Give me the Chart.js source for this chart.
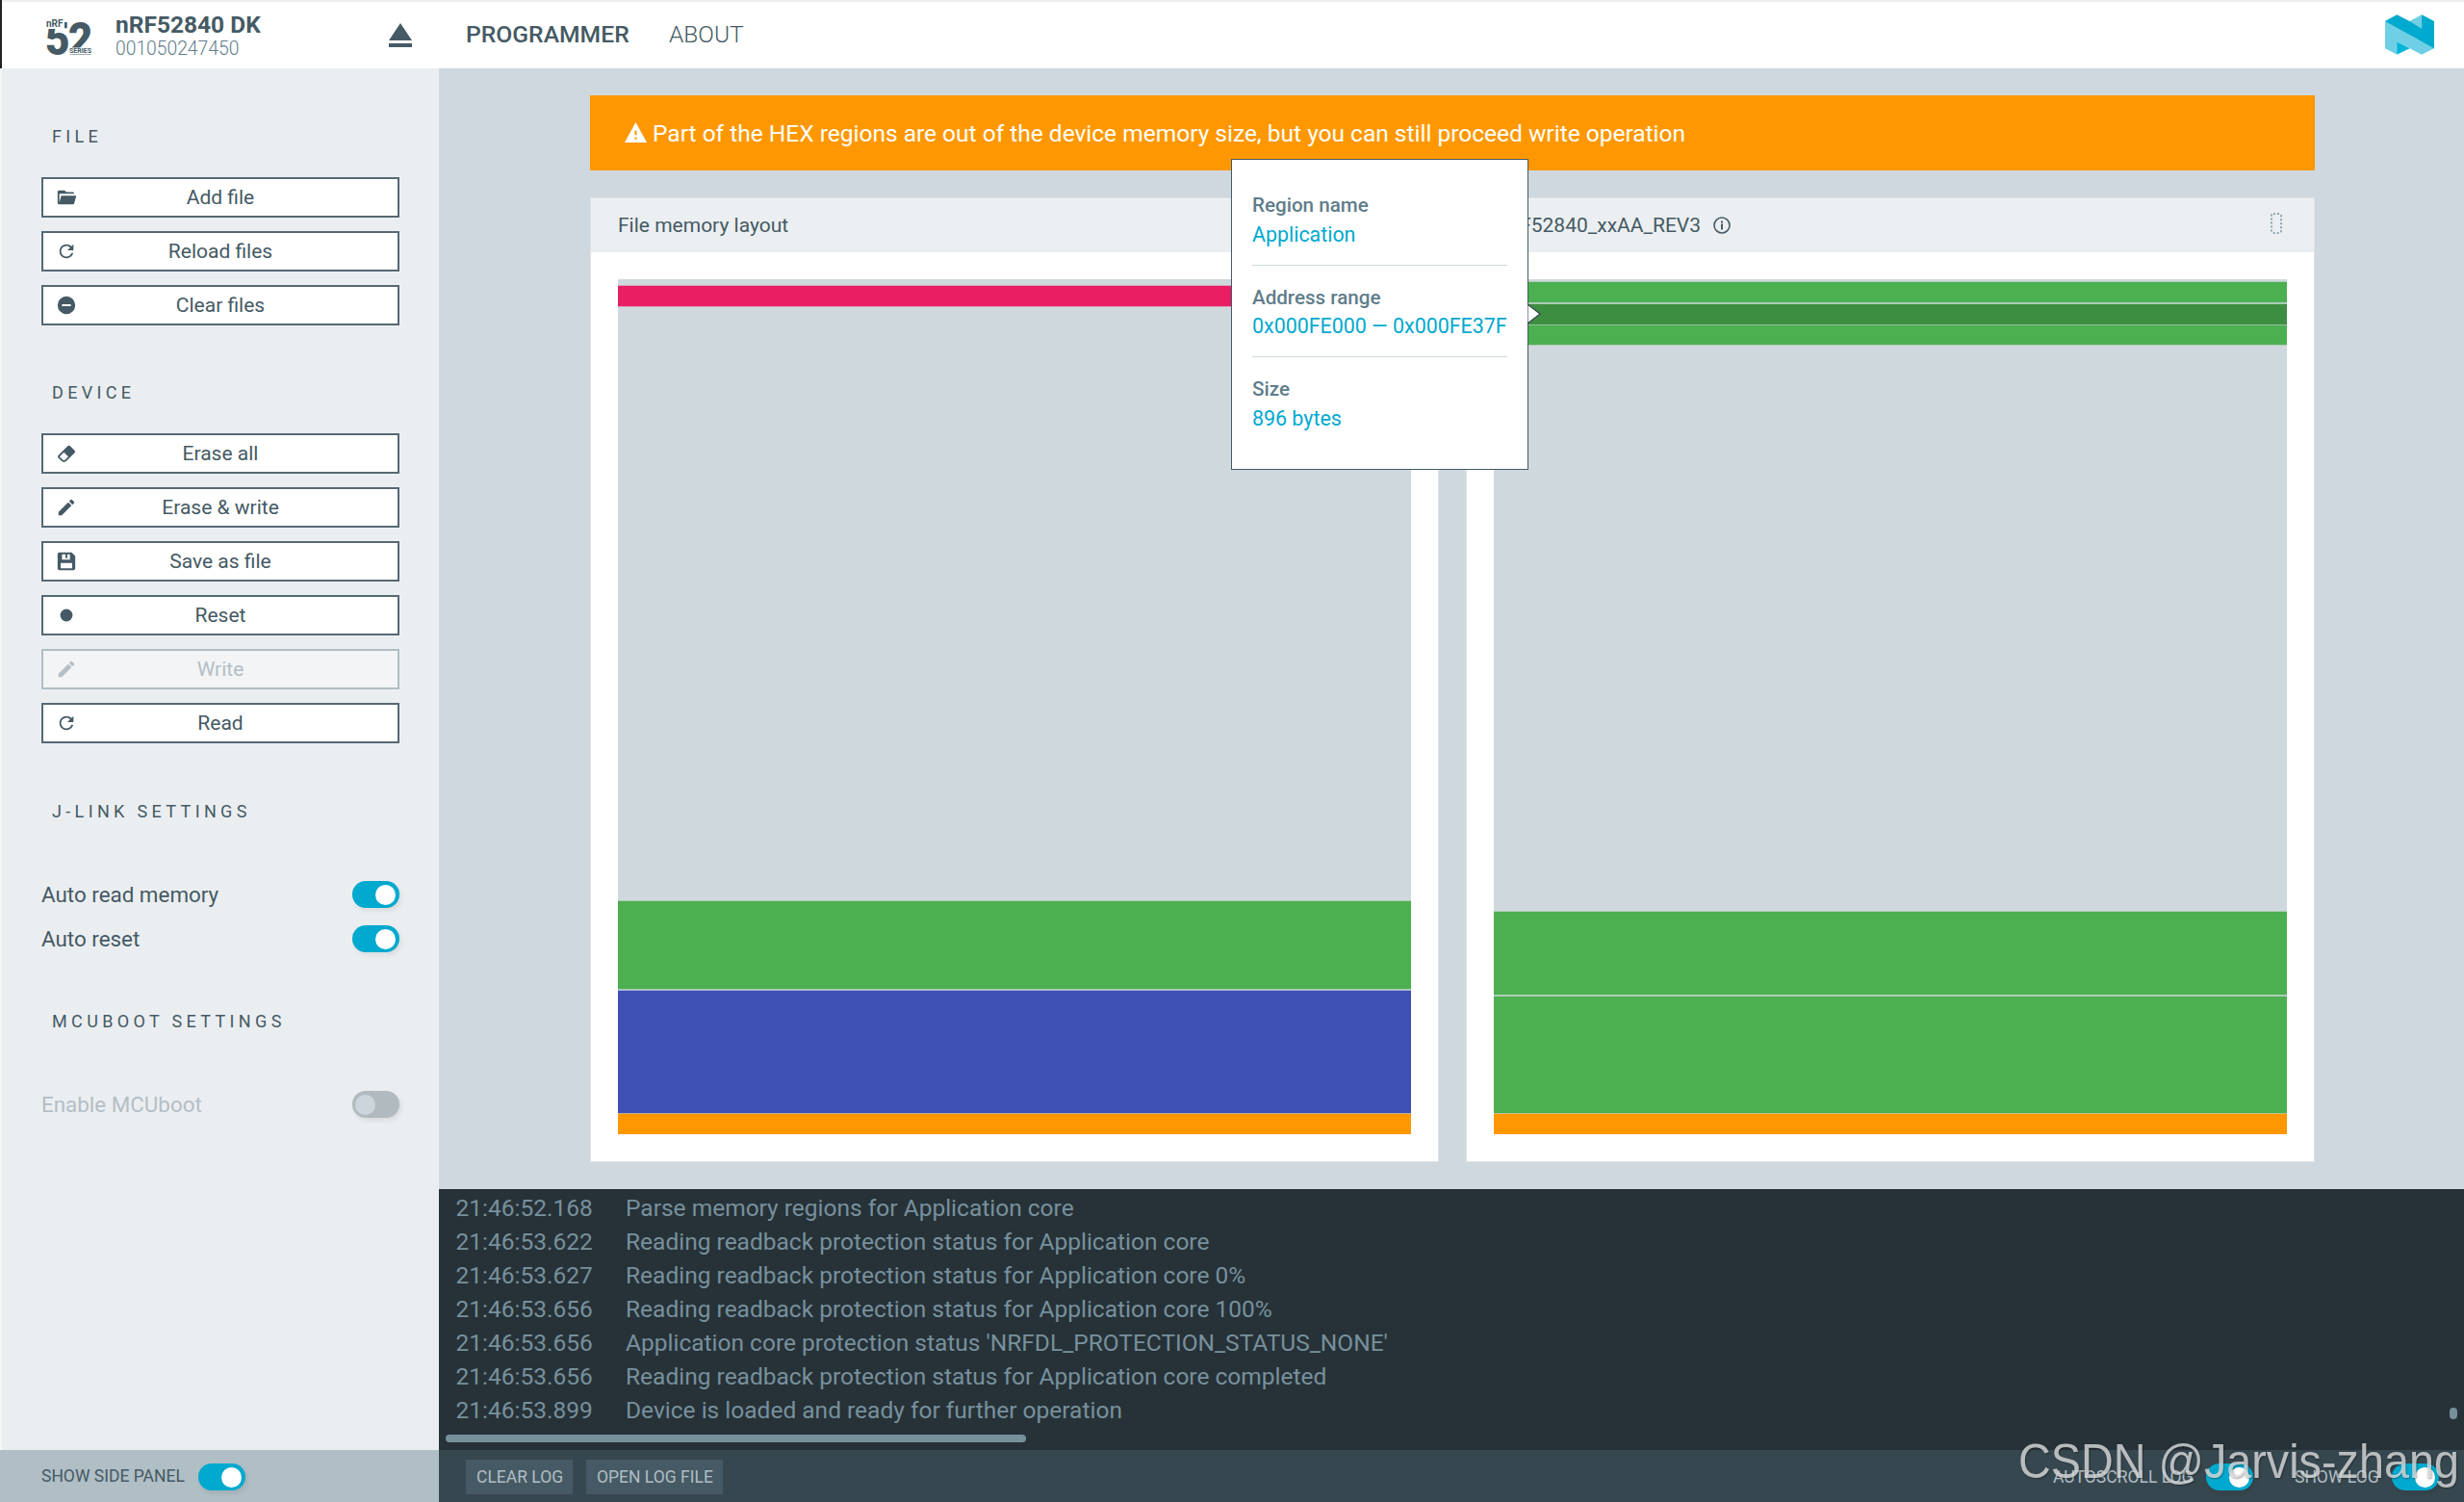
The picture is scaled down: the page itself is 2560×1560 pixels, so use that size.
<!DOCTYPE html>
<html><head><meta charset="utf-8"><title>nRF Connect Programmer</title>
<script src="https://cdn.jsdelivr.net/npm/chart.js@4/dist/chart.umd.min.js"></script>
<style>
html,body{margin:0;padding:0;background:#cfd8de;}
#app{position:relative;width:2560px;height:1560px;overflow:hidden;font-family:Roboto,sans-serif;color:#455a64;background:#cfd8de;}
.box{position:absolute;box-sizing:border-box;}
.t{position:absolute;white-space:nowrap;line-height:1;transform:translateY(-50%);}
.btn{position:absolute;left:43px;width:372px;height:42px;box-sizing:border-box;border:2px solid #566974;background:#fff;text-align:center;line-height:38px;font-size:21px;}
.btn.off{border-color:#b0bec5;background:#f2f4f6;color:#b4bec5;}
.btn svg{position:absolute;left:13px;top:8px;width:22px;height:22px;fill:currentColor;}
.head{letter-spacing:4.35px;font-size:18px;}
.tg{position:absolute;width:49px;height:28px;border-radius:14px;background:#00a9ce;box-shadow:2px 3px 5px rgba(0,0,0,.08);}
.tg i{position:absolute;right:4px;top:4px;width:21px;height:21px;border-radius:50%;background:#fff;}
.tg.off{background:#b0babf;}.tg.off i{right:auto;left:3px;background:#cdd5dc;}
canvas{position:absolute;display:block;}
.tipl{color:#607d8b;font-weight:500;font-size:20.6px;left:1301px;}
.tipv{color:#00a9ce;font-size:21.4px;left:1301px;}
</style></head><body><div id="app">
<div class="box" style="left:0;top:0;width:2560px;height:71px;background:#fff;border-top:2px solid #eceff1"></div>
<div class="box" style="left:0;top:0;width:2px;height:120px;background:#222"></div>
<div class="box" style="left:0;top:71px;width:456px;height:1435px;background:#ebeef1;border-left:2px solid #f5f6f7"></div>

<div class="t" style="left:47px;top:40px;font-size:49px;font-weight:900;letter-spacing:-2px;color:#455a64;transform-origin:left center;transform:translateY(-50%) scaleX(.9)">52</div>
<div class="t" style="left:48px;top:25px;font-size:10px;font-weight:700;background:#fff;padding-right:1px;">nRF</div>
<div class="t" style="left:72px;top:53px;font-size:7px;font-weight:700;background:#fff">SERIES</div>
<div class="t" style="left:120px;top:26px;font-size:24.5px;font-weight:700">nRF52840 DK</div>
<div class="t" style="left:120px;top:51px;font-size:19.3px;font-weight:300;color:#607d8b">001050247450</div>
<svg class="box" style="left:403px;top:24px" width="26" height="26" viewBox="0 0 26 26"><path d="M13 0L25 18H1ZM1 21H25V25H1Z" fill="#455a64"/></svg>
<div class="t" style="left:484px;top:36px;font-size:24.7px;font-weight:500">PROGRAMMER</div>
<div class="t" style="left:695px;top:36px;font-size:24.5px;font-weight:300">ABOUT</div>
<svg class="box" style="left:2478px;top:15px" width="51" height="42" viewBox="113 44 154 126">
<polygon fill="#6fcfe5" points="113,65 113,150 150,170 150,130 228,170 267,150 267,110 150,65"/>
<polygon fill="#00b3d9" points="150,130 190,150 150,170"/>
<polygon fill="#6fcfe5" points="190,65 228,44 228,90"/>
<polygon fill="#00a9ce" points="113,65 150,44 190,65 228,88 228,44 267,65 267,150 228,128"/>
</svg>

<div class="t head" style="left:54px;top:142px">FILE</div>
<div class="t head" style="left:54px;top:408px">DEVICE</div>
<div class="t head" style="left:54px;top:843px">J-LINK SETTINGS</div>
<div class="t head" style="left:54px;top:1061px">MCUBOOT SETTINGS</div>
<div id="buttons"></div>
<div class="t" style="left:43px;top:928.5px;font-size:22.4px">Auto read memory</div>
<div class="t" style="left:43px;top:974.5px;font-size:22.4px">Auto reset</div>
<div class="t" style="left:43px;top:1146.5px;font-size:22.4px;color:#b4bec5">Enable MCUboot</div>
<div class="tg" style="left:366px;top:915px"><i></i></div>
<div class="tg" style="left:366px;top:961px"><i></i></div>
<div class="tg off" style="left:366px;top:1133px"><i></i></div>

<div class="box" style="left:613px;top:99px;width:1792px;height:78px;background:#ff9800"></div>
<svg class="box" style="left:649px;top:127px" width="23" height="21" viewBox="1 2 22 19" preserveAspectRatio="none"><path fill="#fff" d="M13,14H11V10H13M13,18H11V16H13M1,21H23L12,2L1,21Z"/></svg>
<div class="t" style="left:678px;top:139px;font-size:24.5px;color:#fff">Part of the HEX regions are out of the device memory size, but you can still proceed write operation</div>

<div class="box" style="left:613px;top:205px;width:882px;height:1002px;background:#fff;border:1px solid #dde3e7"></div>
<div class="box" style="left:614px;top:206px;width:880px;height:56px;background:#eceff1"></div>
<div class="box" style="left:1523px;top:205px;width:882px;height:1002px;background:#fff;border:1px solid #dde3e7"></div>
<div class="box" style="left:1524px;top:206px;width:880px;height:56px;background:#eceff1"></div>
<div class="t" id="leftTitle" style="left:642px;top:234px;font-size:21px"></div>
<div class="t" id="rightTitle" style="right:793px;top:234px;font-size:21px"></div>
<svg class="box" style="left:1779px;top:224px" width="20" height="20" viewBox="0 0 20 20"><circle cx="10" cy="10" r="8" fill="none" stroke="#455a64" stroke-width="1.6"/><rect x="9" y="8.5" width="2" height="6" fill="#455a64"/><rect x="9" y="5.5" width="2" height="2" fill="#455a64"/></svg>
<div class="box" style="left:2359px;top:221px;width:12px;height:22px;border:2px dotted #90a4ae;border-radius:3px"></div>
<canvas id="fileChart" width="824" height="888" style="left:642px;top:290px;width:824px;height:888px"></canvas>
<canvas id="deviceChart" width="824" height="888" style="left:1552px;top:290px;width:824px;height:888px"></canvas>

<div class="box" style="left:1279px;top:165px;width:309px;height:323px;background:#fff;border:1px solid #455a64"></div>
<svg class="box" style="left:1587px;top:315px" width="16" height="22" viewBox="0 0 16 22"><path d="M0 1L13 11L0 21Z" fill="#fff" stroke="#37474f" stroke-width="1.2"/></svg>
<div class="t tipl" style="top:213px">Region name</div>
<div class="t tipv" style="top:244px" id="tipName"></div>
<div class="box" style="left:1301px;top:275px;width:265px;height:1px;background:#cfd8dc"></div>
<div class="t tipl" style="top:309px">Address range</div>
<div class="t tipv" style="top:339px" id="tipRange"></div>
<div class="box" style="left:1301px;top:370px;width:265px;height:1px;background:#cfd8dc"></div>
<div class="t tipl" style="top:404px">Size</div>
<div class="t tipv" style="top:435px" id="tipSize"></div>

<div class="box" style="left:456px;top:1235px;width:2104px;height:271px;background:#263238"></div>
<div id="log"></div>
<div class="box" style="left:463px;top:1490px;width:603px;height:8px;border-radius:4px;background:#78909c"></div>
<div class="box" style="left:2545px;top:1462px;width:8px;height:12px;border-radius:4px;background:#78909c"></div>

<div class="box" style="left:0;top:1506px;width:456px;height:54px;background:#b0bec5"></div>
<div class="box" style="left:456px;top:1506px;width:2104px;height:54px;background:#37474f"></div>
<div class="t" style="left:43px;top:1534px;font-size:17.5px;color:#455a64">SHOW SIDE PANEL</div>
<div class="tg" style="left:206px;top:1520px"><i></i></div>
<div class="box" style="left:484px;top:1516px;width:111px;height:36px;background:#455a64"></div>
<div class="box" style="left:609px;top:1516px;width:142px;height:36px;background:#455a64"></div>
<div class="t" style="left:495px;top:1535px;font-size:17.5px;color:#b0bec5">CLEAR LOG</div>
<div class="t" style="left:620px;top:1535px;font-size:17.5px;color:#b0bec5">OPEN LOG FILE</div>
<div class="t" style="left:2133px;top:1535px;font-size:17.5px;color:#b0bec5">AUTOSCROLL LOG</div>
<div class="tg" style="left:2292px;top:1520px"><i></i></div>
<div class="t" style="left:2384px;top:1535px;font-size:17.5px;color:#b0bec5">SHOW LOG</div>
<div class="tg" style="left:2485px;top:1520px"><i></i></div>
<div class="t" style="left:2097px;top:1518px;font-size:50px;font-family:'Liberation Sans',sans-serif;color:rgba(225,228,230,.78);text-shadow:1px 1px 2px rgba(0,0,0,.35);transform-origin:left center;transform:translateY(-50%) scaleX(.935)">CSDN @Jarvis-zhang</div>
</div>
<script>
// Memory layout: positions on the picture's layout scale, measured from the bottom of each column.
const layoutCategories = ['File memory layout', 'nRF52840_xxAA_REV3'];
const layoutAxisMax = 888;

const fileRegionNames = ['Region 1', 'Region 2', 'Region 3', 'Region 4'];
const fileRegionStart = [0, 22, 151, 860];
const fileRegionEnd = [21, 149, 242, 881];

const deviceRegionNames = ['Region 1', 'Region 2', 'Region 3', 'Region 4', 'Application', 'Region 6'];
const deviceRegionStart = [0, 22, 145, 820, 841, 864];
const deviceRegionEnd = [21, 143, 231, 840, 862, 885];

const fileRegionColors = ['#ff9800', '#3f51b5', '#4caf50', '#e91e63'];
const deviceRegionColors = ['#ff9800', '#4caf50', '#4caf50', '#4caf50', '#3e8e41', '#4caf50'];

const hoveredRegionName = 'Application';
const hoveredRegionRange = '0x000FE000 \u2014 0x000FE37F';
const hoveredRegionSize = '896 bytes';

const logTimes = ['21:46:52.168', '21:46:53.622', '21:46:53.627', '21:46:53.656', '21:46:53.656', '21:46:53.656', '21:46:53.899'];
const logMessages = [
  'Parse memory regions for Application core',
  'Reading readback protection status for Application core',
  'Reading readback protection status for Application core 0%',
  'Reading readback protection status for Application core 100%',
  "Application core protection status 'NRFDL_PROTECTION_STATUS_NONE'",
  'Reading readback protection status for Application core completed',
  'Device is loaded and ready for further operation'
];

const icons = {
  open: 'M19,20H4C2.89,20 2,19.1 2,18V6C2,4.89 2.89,4 4,4H10L12,6H19A2,2 0 0,1 21,8H21L4,8V18L6.14,10H23.21L20.93,18.5C20.7,19.37 19.92,20 19,20Z',
  reload: 'M17.65,6.35C16.2,4.9 14.21,4 12,4A8,8 0 0,0 4,12A8,8 0 0,0 12,20C15.73,20 18.84,17.45 19.73,14H17.65C16.83,16.33 14.61,18 12,18A6,6 0 0,1 6,12A6,6 0 0,1 12,6C13.66,6 15.14,6.69 16.22,7.78L13,11H20V4L17.65,6.35Z',
  minus: 'M17,13H7V11H17M12,2A10,10 0 0,0 2,12A10,10 0 0,0 12,22A10,10 0 0,0 22,12A10,10 0 0,0 12,2Z',
  erase: 'M16.24,3.56L21.19,8.5C21.97,9.29 21.97,10.55 21.19,11.34L12,20.53C10.44,22.09 7.91,22.09 6.34,20.53L2.81,17C2.03,16.21 2.03,14.95 2.81,14.16L13.41,3.56C14.2,2.78 15.46,2.78 16.24,3.56M4.22,15.58L7.76,19.11C8.54,19.9 9.8,19.9 10.59,19.11L14.12,15.58L9.17,10.63L4.22,15.58Z',
  pencil: 'M20.71,7.04C21.1,6.65 21.1,6 20.71,5.63L18.37,3.29C18,2.9 17.35,2.9 16.96,3.29L15.12,5.12L18.87,8.87M3,17.25V21H6.75L17.81,9.93L14.06,6.18L3,17.25Z',
  save: 'M4 2H18L22 6V20C22 21.1 21.1 22 20 22H4C2.9 22 2 21.1 2 20V4C2 2.9 2.9 2 4 2ZM7 4V10H16V4H13V8.5H11V4ZM5.5 14V20H18.5V14Z',
  dot: 'M12,5A7,7 0 1,0 12,19A7,7 0 1,0 12,5Z'
};
const buttonLabels = ['Add file', 'Reload files', 'Clear files', 'Erase all', 'Erase & write', 'Save as file', 'Reset', 'Write', 'Read'];
const buttonIcons = ['open', 'reload', 'minus', 'erase', 'pencil', 'save', 'dot', 'pencil', 'reload'];
const buttonTops = [184, 240, 296, 450, 506, 562, 618, 674, 730];

const btnHost = document.getElementById('buttons');
buttonLabels.forEach((label, i) => {
  const b = document.createElement('div');
  b.className = 'btn' + (label === 'Write' ? ' off' : '');
  b.style.top = buttonTops[i] + 'px';
  b.innerHTML = '<svg viewBox="0 0 24 24"><path fill-rule="evenodd" d="' + icons[buttonIcons[i]] + '"/></svg>';
  b.appendChild(document.createTextNode(label));
  btnHost.appendChild(b);
});

const logHost = document.getElementById('log');
logTimes.forEach((time, i) => {
  const top = 1254.5 + i * 35;
  [[473.5, time], [650, logMessages[i]]].forEach(([left, text]) => {
    const d = document.createElement('div');
    d.className = 't';
    d.style.cssText = 'left:' + left + 'px;top:' + top + 'px;font-size:24.5px;color:#78909c';
    d.textContent = text;
    logHost.appendChild(d);
  });
});

document.getElementById('leftTitle').textContent = layoutCategories[0];
document.getElementById('rightTitle').textContent = layoutCategories[1];
document.getElementById('tipName').textContent = hoveredRegionName;
document.getElementById('tipRange').textContent = hoveredRegionRange;
document.getElementById('tipSize').textContent = hoveredRegionSize;

const chartBackground = {
  id: 'chartBackground',
  beforeDraw(chart) {
    const { ctx, width, height } = chart;
    ctx.save();
    ctx.fillStyle = '#cfd8dc';
    ctx.fillRect(0, 0, width, height);
    ctx.restore();
  }
};

function drawLayout(id, category, names, starts, ends, colors) {
  new Chart(document.getElementById(id), {
    type: 'bar',
    data: {
      labels: [category],
      datasets: names.map((name, i) => ({
        label: name,
        data: [[starts[i], ends[i]]],
        backgroundColor: colors[i],
        borderWidth: 0,
        borderSkipped: false,
        barPercentage: 1,
        categoryPercentage: 1
      }))
    },
    options: {
      responsive: false,
      animation: false,
      devicePixelRatio: 1,
      layout: { padding: 0 },
      plugins: { legend: { display: false }, tooltip: { enabled: false }, title: { display: false } },
      scales: {
        x: { display: false, stacked: true },
        y: { display: false, stacked: false, min: 0, max: layoutAxisMax }
      }
    },
    plugins: [chartBackground]
  });
}
drawLayout('fileChart', layoutCategories[0], fileRegionNames, fileRegionStart, fileRegionEnd, fileRegionColors);
drawLayout('deviceChart', layoutCategories[1], deviceRegionNames, deviceRegionStart, deviceRegionEnd, deviceRegionColors);
</script></body></html>
